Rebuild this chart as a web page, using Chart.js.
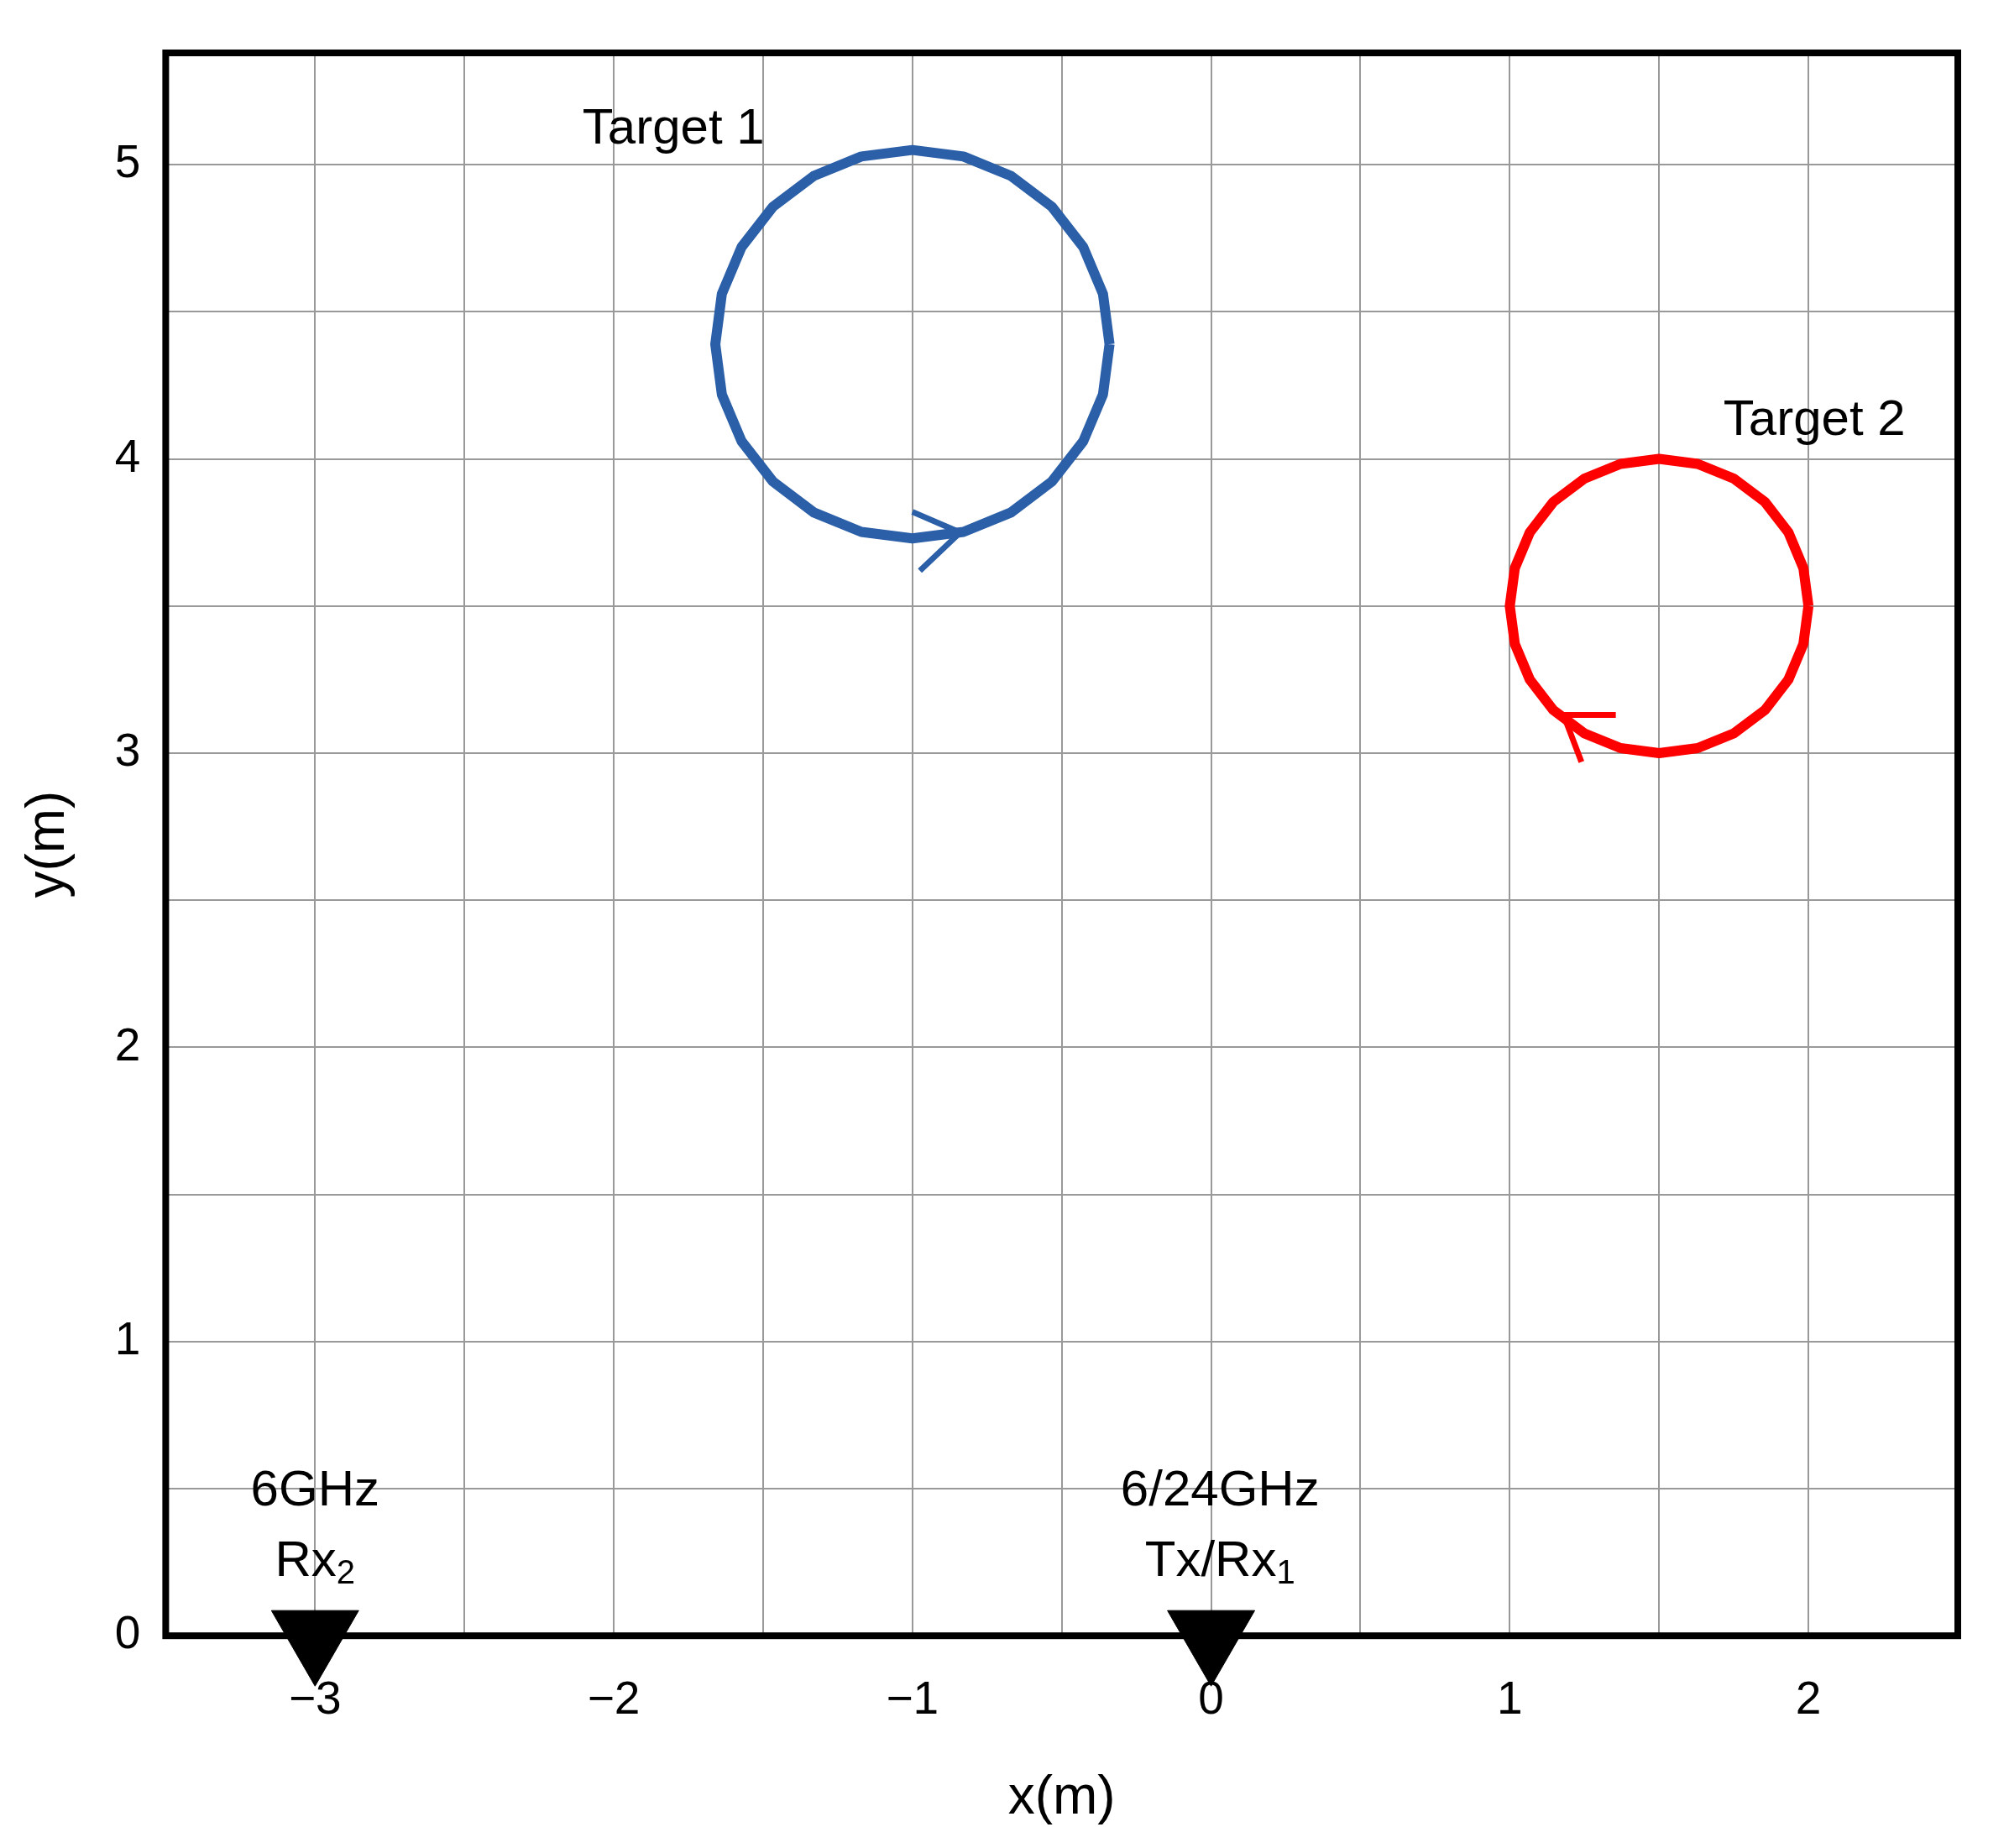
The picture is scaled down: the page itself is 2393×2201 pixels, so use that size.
<!DOCTYPE html>
<html>
<head>
<meta charset="utf-8">
<script src="https://cdn.jsdelivr.net/npm/chart.js@4"></script>
<style>body{margin:0;background:#fff}</style>
</head>
<body>
<canvas id="c" width="2393" height="2201"></canvas>
<script>
// target 1 path, circle around (-1, 4.39)
const target1X = [-0.34, -0.362, -0.428, -0.533, -0.67, -0.829, -1.0, -1.171, -1.33, -1.467, -1.572, -1.638, -1.66,
  -1.638, -1.572, -1.467, -1.33, -1.171, -1.0, -0.829, -0.67, -0.533, -0.428, -0.362, -0.34];
const target1Y = [4.39, 4.561, 4.72, 4.857, 4.962, 5.028, 5.05, 5.028, 4.962, 4.857, 4.72, 4.561, 4.39,
  4.219, 4.06, 3.923, 3.818, 3.752, 3.73, 3.752, 3.818, 3.923, 4.06, 4.219, 4.39];
// target 2 path, circle around (1.5, 3.5)
const target2X = [2.0, 1.983, 1.933, 1.854, 1.75, 1.629, 1.5, 1.371, 1.25, 1.146, 1.067, 1.017, 1.0,
  1.017, 1.067, 1.146, 1.25, 1.371, 1.5, 1.629, 1.75, 1.854, 1.933, 1.983, 2.0];
const target2Y = [3.5, 3.629, 3.75, 3.854, 3.933, 3.983, 4.0, 3.983, 3.933, 3.854, 3.75, 3.629, 3.5,
  3.371, 3.25, 3.146, 3.067, 3.017, 3.0, 3.017, 3.067, 3.146, 3.25, 3.371, 3.5];
// arrow heads
const arrow1X = [-1.0, -0.84, -0.975];
const arrow1Y = [3.82, 3.75, 3.62];
const arrow2X = [1.355, 1.18, 1.24];
const arrow2Y = [3.13, 3.13, 2.97];
// antennas
const antennaX = [-3, 0];
const antennaY = [0, 0];
const labels = [
  {x: -1.8, y: 5.12, t: 'Target 1'},
  {x: 2.02, y: 4.13, t: 'Target 2'},
  {x: -3, y: 0.49, t: '6GHz'},
  {x: 0.03, y: 0.49, t: '6/24GHz'}
];

const pts = (xs, ys) => xs.map((x, i) => ({x: x, y: ys[i]}));
const fmt = v => Math.abs(v - Math.round(v)) > 1e-6 ? '' : (v < 0 ? '\u2212' + Math.abs(v) : '' + v);
const FONT = 'Arial, "Liberation Sans"';

const extras = {
  id: 'extras',
  afterDatasetsDraw(chart) {
    const c = chart.ctx, xs = chart.scales.x, ys = chart.scales.y, a = chart.chartArea;
    c.save();
    c.fillStyle = '#000';
    c.font = '60px ' + FONT;
    c.textAlign = 'center';
    c.textBaseline = 'middle';
    labels.forEach(l => c.fillText(l.t, xs.getPixelForValue(l.x), ys.getPixelForValue(l.y)));
    // subscript labels
    const sub = (x, y, main, s) => {
      c.font = '60px ' + FONT;
      const w = c.measureText(main).width;
      c.font = '40px ' + FONT;
      const ws = c.measureText(s).width;
      const px = xs.getPixelForValue(x) - (w + ws) / 2, py = ys.getPixelForValue(y);
      c.textAlign = 'left';
      c.font = '60px ' + FONT;
      c.fillText(main, px, py);
      c.font = '40px ' + FONT;
      c.fillText(s, px + w, py + 14);
      c.textAlign = 'center';
    };
    sub(-3, 0.25, 'Rx', '2');
    sub(0.03, 0.25, 'Tx/Rx', '1');
    c.strokeStyle = '#000';
    c.lineWidth = 8;
    c.strokeRect(a.left, a.top, a.right - a.left, a.bottom - a.top);
    c.restore();
  }
};

new Chart(document.getElementById('c'), {
  type: 'scatter',
  data: {
    datasets: [
      {data: pts(target1X, target1Y), showLine: true, borderColor: '#2b5fa8', borderWidth: 12, pointRadius: 0, borderJoinStyle: 'round'},
      {data: pts(arrow1X, arrow1Y), showLine: true, borderColor: '#2b5fa8', borderWidth: 7, pointRadius: 0},
      {data: pts(target2X, target2Y), showLine: true, borderColor: '#ff0000', borderWidth: 12, pointRadius: 0, borderJoinStyle: 'round'},
      {data: pts(arrow2X, arrow2Y), showLine: true, borderColor: '#ff0000', borderWidth: 7, pointRadius: 0},
      {data: pts(antennaX, antennaY), pointStyle: 'triangle', rotation: 180, pointRadius: 60, backgroundColor: '#000', borderColor: '#000', clip: false}
    ]
  },
  options: {
    responsive: false,
    animation: false,
    devicePixelRatio: 1,
    layout: {padding: {left: 10, right: 25, top: 12, bottom: 20}},
    plugins: {legend: {display: false}, tooltip: {enabled: false}},
    scales: {
      x: {
        min: -3.5, max: 2.5,
        ticks: {stepSize: 0.5, callback: fmt, autoSkip: false, maxRotation: 0, color: '#000', font: {size: 55, family: FONT}, padding: 45},
        grid: {color: '#999999', lineWidth: 2, drawTicks: false},
        border: {display: false},
        title: {display: true, text: 'x(m)', color: '#000', font: {size: 64, family: FONT}, padding: 0}
      },
      y: {
        min: 0, max: 5.38,
        afterBuildTicks: s => { s.ticks = []; for (let v = 0; v <= 5.0001; v += 0.5) s.ticks.push({value: v}); },
        ticks: {callback: fmt, autoSkip: false, color: '#000', font: {size: 55, family: FONT}, padding: 30},
        grid: {color: '#999999', lineWidth: 2, drawTicks: false},
        border: {display: false},
        title: {display: true, text: 'y(m)', color: '#000', font: {size: 64, family: FONT}, padding: 10}
      }
    }
  },
  plugins: [extras]
});
</script>
</body>
</html>
